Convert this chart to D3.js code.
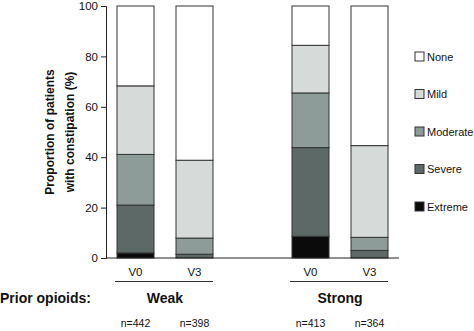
<!DOCTYPE html>
<html><head><meta charset="utf-8">
<script src="https://cdn.jsdelivr.net/npm/d3@7"></script>
<style>body{margin:0;background:#fff}svg{display:block}text{font-family:"Liberation Sans",Arial,Helvetica,sans-serif;fill:#111}</style>
</head><body><svg id="c" width="474" height="331"></svg>
<script>
const groups = ["Weak", "Strong"];
const visits = ["V0", "V3"];
const severities = ["Extreme", "Severe", "Moderate", "Mild", "None"];
const colors = ["#0b0b0b", "#5c6967", "#8d9b99", "#d6dad9", "#ffffff"];
const extreme  = [2, 0, 8.6, 0];
const severe   = [19, 1.5, 35.2, 3];
const moderate = [20.1, 6.4, 21.7, 5.2];
const mild     = [27.2, 30.9, 18.9, 36.4];
const nLabels  = ["n=442", "n=398", "n=413", "n=364"];
const yTicks   = [0, 20, 40, 60, 80, 100];

const bars = [];
groups.forEach((g, gi) => visits.forEach((v, vi) => {
  const i = gi * 2 + vi;
  const none = 100 - extreme[i] - severe[i] - moderate[i] - mild[i];
  bars.push({group: g, visit: v, n: nLabels[i], Extreme: extreme[i], Severe: severe[i], Moderate: moderate[i], Mild: mild[i], None: none});
}));

const svg = d3.select("#c");
const y = d3.scaleLinear().domain([0, 100]).range([258, 6]);
const xg = d3.scaleBand().domain(groups).range([77.5, 427.5]);
const xi = d3.scalePoint().domain(visits).range([-29.5, 29.5]);
const bw = 37;
const cx = d => xg(d.group) + xg.bandwidth() / 2 + xi(d.visit);
const color = d3.scaleOrdinal().domain(severities).range(colors);

const stack = d3.stack().keys(severities)(bars);
svg.append("g").selectAll("g").data(stack).join("g")
  .attr("fill", s => color(s.key))
  .selectAll("rect").data(s => s).join("rect")
  .attr("x", d => cx(d.data) - bw / 2)
  .attr("width", bw)
  .attr("y", d => y(d[1]))
  .attr("height", d => Math.max(0, y(d[0]) - y(d[1])))
  .attr("stroke", "#333").attr("stroke-width", 1);

// y axis
const ax = svg.append("g").attr("transform", "translate(106,0)")
  .call(d3.axisLeft(y).tickValues(yTicks).tickSize(5).tickPadding(3));
ax.select(".domain").attr("stroke", "#222");
ax.selectAll(".tick line").attr("stroke", "#222");
ax.selectAll("text").style("font-size", "11.5px").style("fill", "#111");

// baseline
svg.append("line").attr("x1", 106).attr("x2", 399).attr("y1", y(0)).attr("y2", y(0)).attr("stroke", "#222");

// y title
const yt = svg.append("text").attr("transform", "translate(58,132) rotate(-90)")
  .attr("text-anchor", "middle").style("font-size", "12px").style("font-weight", "bold");
yt.append("tspan").attr("x", 0).attr("dy", "-0.35em").text("Proportion of patients");
yt.append("tspan").attr("x", 0).attr("dy", "1.65em").text("with constipation (%)");

// visit labels
svg.append("g").selectAll("text").data(bars).join("text")
  .attr("x", d => cx(d)).attr("y", 276).attr("text-anchor", "middle")
  .style("font-size", "11.5px").text(d => d.visit);
// n labels
svg.append("g").selectAll("text").data(bars).join("text")
  .attr("x", d => cx(d)).attr("y", 327).attr("text-anchor", "middle")
  .style("font-size", "10.5px").text(d => d.n);
// group lines and labels
groups.forEach(g => {
  const c = xg(g) + xg.bandwidth() / 2;
  svg.append("line").attr("x1", c + xi("V0") - bw / 2 - 2).attr("x2", c + xi("V3") + bw / 2)
    .attr("y1", 281.5).attr("y2", 281.5).attr("stroke", "#333");
  svg.append("text").attr("x", c).attr("y", 303).attr("text-anchor", "middle")
    .style("font-size", "14px").style("font-weight", "bold").text(g);
});
svg.append("text").attr("x", 0).attr("y", 303).style("font-size", "14px").style("font-weight", "bold").text("Prior opioids:");

// legend
const legY = d3.scalePoint().domain(severities.slice().reverse()).range([56.5, 206.5]);
const lg = svg.append("g").selectAll("g").data(severities.slice().reverse()).join("g")
  .attr("transform", d => `translate(415,${legY(d)})`);
lg.append("rect").attr("x", 0).attr("y", -4.5).attr("width", 9).attr("height", 9)
  .attr("fill", d => color(d)).attr("stroke", "#333");
lg.append("text").attr("x", 12).attr("y", 4).style("font-size", "11px").text(d => d);
</script></body></html>
